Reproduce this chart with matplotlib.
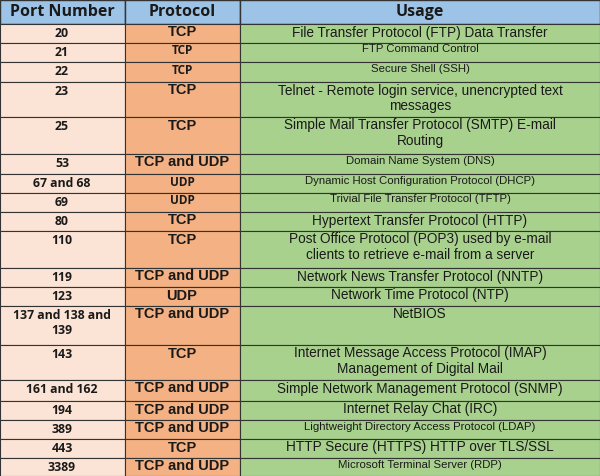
import matplotlib.pyplot as plt
from matplotlib.patches import Rectangle

# ============================================================
# DATA
# ============================================================
headers = ["Port Number", "Protocol", "Usage"]
ports = ["20", "21", "22", "23", "25", "53", "67 and 68", "69", "80", "110",
         "119", "123", "137 and 138 and\n139", "143", "161 and 162", "194",
         "389", "443", "3389"]
protocols = ["TCP", "TCP", "TCP", "TCP", "TCP", "TCP and UDP", "UDP", "UDP",
             "TCP", "TCP", "TCP and UDP", "UDP", "TCP and UDP", "TCP",
             "TCP and UDP", "TCP and UDP", "TCP and UDP", "TCP", "TCP and UDP"]
usages = [
    "File Transfer Protocol (FTP) Data Transfer",
    "FTP Command Control",
    "Secure Shell (SSH)",
    "Telnet - Remote login service, unencrypted text\nmessages",
    "Simple Mail Transfer Protocol (SMTP) E-mail\nRouting",
    "Domain Name System (DNS)",
    "Dynamic Host Configuration Protocol (DHCP)",
    "Trivial File Transfer Protocol (TFTP)",
    "Hypertext Transfer Protocol (HTTP)",
    "Post Office Protocol (POP3) used by e-mail\nclients to retrieve e-mail from a server",
    "Network News Transfer Protocol (NNTP)",
    "Network Time Protocol (NTP)",
    "NetBIOS",
    "Internet Message Access Protocol (IMAP)\nManagement of Digital Mail",
    "Simple Network Management Protocol (SNMP)",
    "Internet Relay Chat (IRC)",
    "Lightweight Directory Access Protocol (LDAP)",
    "HTTP Secure (HTTPS) HTTP over TLS/SSL",
    "Microsoft Terminal Server (RDP)",
]

# layout / style
row_edges = [24, 43, 62, 82, 117, 154, 174, 193, 212, 231, 268, 287, 306,
             345, 380, 401, 420, 439, 458, 476]
col_edges = [0, 125, 240, 600]
big_proto = [1, 0, 0, 1, 1, 1, 0, 0, 1, 1, 1, 1, 1, 1, 1, 1, 1, 1, 1]
big_usage = [1, 0, 0, 1, 1, 0, 0, 0, 1, 1, 1, 1, 1, 1, 1, 1, 0, 1, 0]
col_colors = ["#fbe4d5", "#f4b183", "#a9d18e"]
header_color = "#9dc3e6"

fig = plt.figure(figsize=(6.0, 4.76), dpi=100)
ax = fig.add_axes([0, 0, 1, 1])
ax.set_xlim(0, 600)
ax.set_ylim(476, 0)
ax.axis("off")

# header
for j, h in enumerate(headers):
    x0, x1 = col_edges[j], col_edges[j + 1]
    ax.add_patch(Rectangle((x0, 0), x1 - x0, 24, facecolor=header_color,
                           edgecolor="#333333", linewidth=1))
    ax.text((x0 + x1) / 2, 12, h, ha="center", va="center", fontsize=11.5,
            fontweight="bold", family="Open Sans", color="#1a1a1a")

for i in range(len(ports)):
    y0, y1 = row_edges[i], row_edges[i + 1]
    for j in range(3):
        x0, x1 = col_edges[j], col_edges[j + 1]
        ax.add_patch(Rectangle((x0, y0), x1 - x0, y1 - y0,
                               facecolor=col_colors[j], edgecolor="#333333",
                               linewidth=0.8))
    ty = y0 + 1.5
    ax.text(62, y0 + 3, ports[i], ha="center", va="top", fontsize=8.8,
            fontweight="bold", family="Open Sans", color="#1a1a1a",
            linespacing=1.15)
    ax.text(182, ty, protocols[i], ha="center", va="top",
            fontsize=10.5 if big_proto[i] else 8.5, fontweight="bold",
            family="Liberation Sans" if big_proto[i] else "Open Sans",
            color="#1a1a1a")
    ax.text(420, ty, usages[i], ha="center", va="top",
            fontsize=9.8 if big_usage[i] else 8.2, family="Liberation Sans",
            color="#1a1a1a", linespacing=1.1)

fig.savefig("out.png", dpi=100)
